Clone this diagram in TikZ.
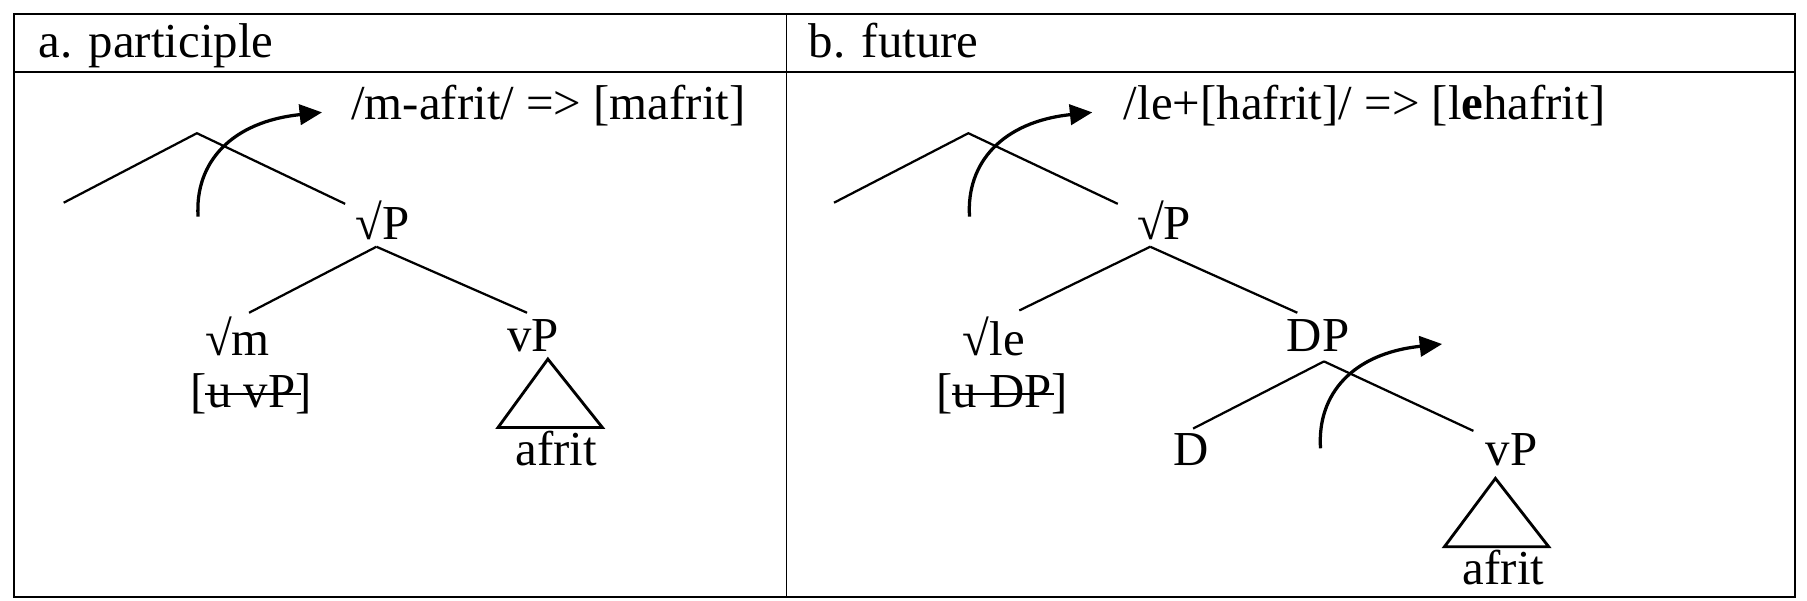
\documentclass[tikz,border=0pt]{standalone}
\usepackage{fontspec}
\setmainfont{Liberation Serif}
\usetikzlibrary{arrows.meta}
\begin{document}
\begin{tikzpicture}[x=0.02cm,y=-0.02cm,
  lbl/.style={inner sep=0pt,font=\fontsize{24}{28}\selectfont},
  br/.style={line width=1.1pt},
  mv/.style={line width=1.6pt,-{Triangle[length=11pt,width=10pt]}}]
\useasboundingbox (0,0) rectangle (1560,518);
\fill[white] (0,0) rectangle (1560,518);
\draw[line width=1pt] (12,12) rectangle (1550,515);
\draw[line width=1pt] (12,62) -- (1550,62);
\draw[line width=0.8pt] (679,12) -- (679,515);
\node[lbl,anchor=base west] (ha) at (33,50) {a. participle};
\node[lbl,anchor=base west] (hb) at (698,50) {b. future};
% panel a
\node[lbl,anchor=base west] (fa) at (303,103) {/m-afrit/ => [mafrit]};
\coordinate (a1) at (55,175); \coordinate (a2) at (170,115); \coordinate (a3) at (298,176);
\draw[br] (a1) -- (a2) -- (a3);
\coordinate (as) at (171,187); \coordinate (ae) at (278,97);
\draw[mv] (as) .. controls (168,140) and (200,105) .. (ae);
\node[lbl] (rPa) at (330,190) {√P};
\node[lbl] (rm) at (205,290) {√m};
\node[lbl] (vPa) at (460,290) {vP};
\draw[br] (325,213) -- (215,270);
\draw[br] (325,213) -- (455,270);
\node[lbl] (ua) at (217,340) {[u vP]};
\draw[line width=1pt] (177,340) -- (260,340);
\coordinate (ta) at (473,310);
\draw[line width=1.4pt] (ta) -- (430,369) -- (520,369) -- cycle;
\node[lbl] (afa) at (480,387) {afrit};
% panel b
\node[lbl,anchor=base west] (fb) at (970,103) {/le+[hafrit]/ => [l\textbf{e}hafrit]};
\coordinate (b1) at (720,175); \coordinate (b2) at (836,115); \coordinate (b3) at (965,176);
\draw[br] (b1) -- (b2) -- (b3);
\coordinate (bs) at (837,187); \coordinate (be) at (943,97);
\draw[mv] (bs) .. controls (834,140) and (866,105) .. (be);
\node[lbl] (rPb) at (1005,190) {√P};
\node[lbl] (rle) at (858,290) {√le};
\node[lbl] (DP) at (1138,290) {DP};
\draw[br] (993,213) -- (880,268);
\draw[br] (993,213) -- (1120,270);
\node[lbl] (ub) at (865,340) {[u DP]};
\draw[line width=1pt] (822,340) -- (910,340);
\draw[br] (1143,312) -- (1030,370);
\draw[br] (1143,312) -- (1272,372);
\coordinate (cs) at (1140,387); \coordinate (ce) at (1245,297);
\draw[mv] (cs) .. controls (1137,340) and (1168,305) .. (ce);
\node[lbl] (D) at (1028,388) {D};
\node[lbl] (vPb) at (1305,388) {vP};
\coordinate (tb) at (1291,413);
\draw[line width=1.4pt] (tb) -- (1247,472) -- (1337,472) -- cycle;
\node[lbl] (afb) at (1298,490) {afrit};
\end{tikzpicture}
\end{document}
